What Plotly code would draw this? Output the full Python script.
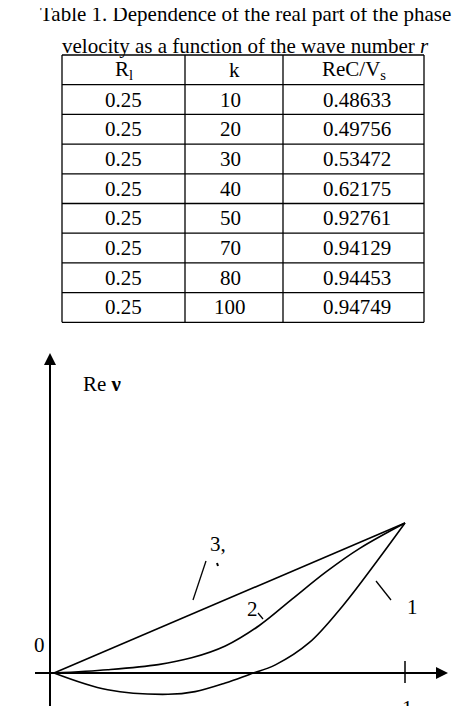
import plotly.graph_objects as go

W, H = 474, 706
FONT = "Liberation Serif"

title_lines = ["Table 1. Dependence of the real part of the phase",
               "velocity as a function of the wave number <i>r</i>"]
headers = ["R<sub>l</sub>", "k", "ReC/V<sub>s</sub>"]
R1 = ["0.25"] * 8
k = ["10", "20", "30", "40", "50", "70", "80", "100"]
rec = ["0.48633", "0.49756", "0.53472", "0.62175", "0.92761", "0.94129", "0.94453", "0.94749"]

# sketch curves (normalized: x in [0,1], y in units of the endpoint height)
x3 = [0.0, 1.0]
y3 = [0.0, 1.0]
x2 = [0.0, 0.153, 0.297, 0.392, 0.488, 0.584, 0.679, 0.775, 0.871, 1.0]
y2 = [0.0, 0.022, 0.056, 0.101, 0.180, 0.315, 0.494, 0.674, 0.831, 1.0]
x1 = [0.0, 0.153, 0.325, 0.402, 0.488, 0.555, 0.632, 0.727, 0.823, 0.919, 1.0]
y1 = [0.0, -0.112, -0.142, -0.124, -0.067, -0.011, 0.056, 0.202, 0.449, 0.742, 1.0]

def px(x, y):
    return x / W, 1 - y / H

fig = go.Figure()
for xs, ys in [(x3, y3), (x2, y2), (x1, y1)]:
    fig.add_trace(go.Scatter(x=xs, y=ys, mode="lines", line=dict(color="black", width=1.6, shape="spline"),
                             hoverinfo="skip", showlegend=False))

shapes, ann = [], []
def line(x0, y0, x1_, y1_, w=1.3):
    a, b = px(x0, y0); c, d = px(x1_, y1_)
    shapes.append(dict(type="line", xref="paper", yref="paper", x0=a, y0=b, x1=c, y1=d,
                       line=dict(color="black", width=w)))
def text(t, x, y, size=21, xanchor="center"):
    a, b = px(x, y)
    ann.append(dict(text=t, x=a, y=b, xref="paper", yref="paper", showarrow=False,
                    xanchor=xanchor, yanchor="middle", font=dict(family=FONT, size=size, color="black")))

# title
text(title_lines[0], 237, 6)
text(title_lines[1], 237, 38)

# table
cols = [54, 177, 275, 416]
top, rh = 47, 29.7
n = len(k) + 1
for i in range(n + 1):
    line(cols[0], top + i * rh, cols[-1], top + i * rh)
for c in cols:
    line(c, top, c, top + n * rh)
centers = [(cols[i] + cols[i + 1]) / 2 for i in range(3)]
for j, h in enumerate(headers):
    text(h, centers[j], top + rh / 2)
for i in range(len(k)):
    yy = top + (i + 1.5) * rh
    text(R1[i], centers[0], yy)
    text(k[i], centers[1] - 4, yy)
    text(rec[i], centers[2] + 3, yy)

# axes
line(42, 706, 42, 362, 2)
line(27, 665, 425, 665, 2)
a, b = px(42, 345)
ann.append(dict(x=a, y=b, ax=0, ay=22, xref="paper", yref="paper", axref="pixel", ayref="pixel",
                showarrow=True, arrowhead=2, arrowsize=1.2, arrowwidth=2, arrowcolor="black", text=""))
a, b = px(440, 665)
ann.append(dict(x=a, y=b, ax=-22, ay=0, xref="paper", yref="paper", axref="pixel", ayref="pixel",
                showarrow=True, arrowhead=2, arrowsize=1.2, arrowwidth=2, arrowcolor="black", text=""))
line(397, 653, 397, 675, 1.5)

text("Re <b>ν</b>", 73, 376, xanchor="left")
text("0", 32, 637)
text("1", 399, 700)
text("3,", 210, 536)
line(209, 555, 210, 558, 2)
line(185, 592, 198, 553)
text("2", 244, 601)
line(250, 605, 255, 611)
text("1", 404, 599)
line(368, 573, 383, 592)

fig.update_layout(width=W, height=H, margin=dict(l=0, r=0, t=0, b=0),
                  paper_bgcolor="white", plot_bgcolor="white",
                  shapes=shapes, annotations=ann,
                  xaxis=dict(range=[-46 / 351, (W - 46) / 351], visible=False, fixedrange=True),
                  yaxis=dict(range=[-(H - 665) / 150, 665 / 150], visible=False, fixedrange=True))
fig.write_html("out.html")
